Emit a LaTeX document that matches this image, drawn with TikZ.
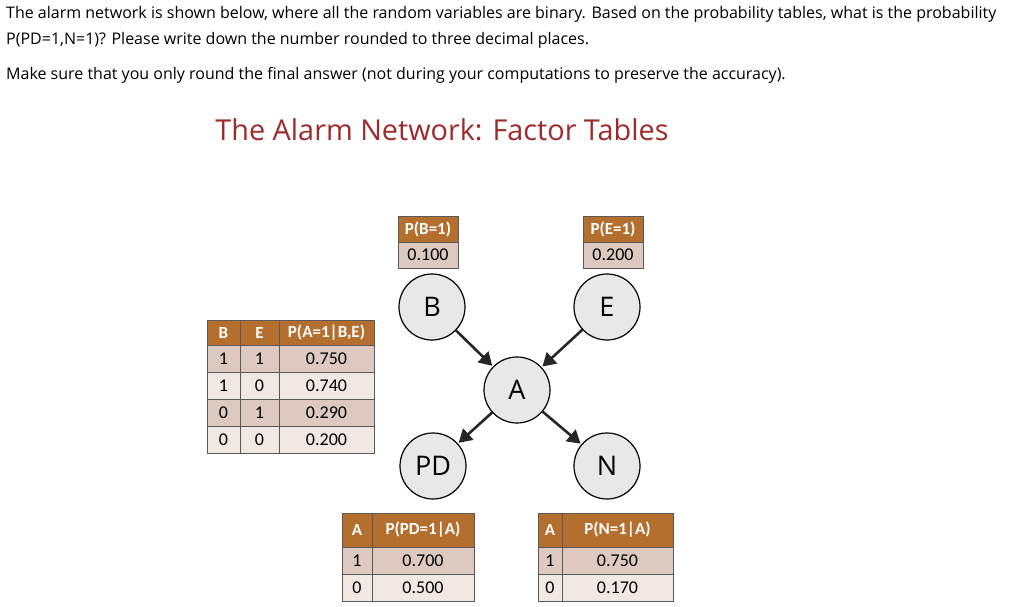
\documentclass[tikz,border=0pt]{standalone}
\usepackage{fontspec}
\setmainfont{Open Sans}
\newfontfamily\calfnt{Carlito}
\usetikzlibrary{arrows.meta}
\definecolor{hd}{HTML}{B46E2E}
\definecolor{rd}{HTML}{DDC9BF}
\definecolor{rl}{HTML}{F1E7E3}
\definecolor{nodef}{HTML}{E8E8E8}
\definecolor{ttl}{HTML}{9E2A2B}
\tikzset{
  cellbox/.style={draw=black!65, line width=0.6pt, inner sep=0pt, font=\calfnt\fontsize{18}{20}\selectfont},
  hdcell/.style={cellbox, fill=hd, text=white, font=\calfnt\bfseries\fontsize{17}{20}\selectfont},
  rv/.style={circle, draw=black, line width=1.2pt, fill=nodef, minimum size=66pt, inner sep=0pt, font=\fontsize{27}{30}\selectfont},
  edge/.style={line width=2.6pt, draw=black!85, -{Triangle[length=13pt,width=15pt]}, shorten >=1pt}
}
% \cellat{name}{x1}{y1}{x2}{y2}{style}{text}
\newcommand\cellat[7]{\node[#6, minimum width={(#4-#2)*1pt}, minimum height={(#5-#3)*1pt}] (#1) at ({(#2+#4)/2}, {(#3+#5)/2}) {#7};}
\begin{document}
\begin{tikzpicture}[x=1pt,y=-1pt]
\useasboundingbox (0,0) rectangle (1009,607);
\begin{scope}[every node/.style={anchor=base west, inner sep=0pt, font=\fontsize{16}{18}\selectfont}]
\node (t1) at (6,19) {The alarm network is shown below, where all the random variables are binary. Based on the probability tables, what is the probability};
\node (t2) at (6,45) {P(PD=1,N=1)? Please write down the number rounded to three decimal places.};
\node (t3) at (6,80) {Make sure that you only round the final answer (not during your computations to preserve the accuracy).};
\end{scope}
\node[anchor=base, text=ttl, font=\fontsize{28.8}{32}\selectfont, inner sep=0pt] (title) at (442,141) {The Alarm Network: Factor Tables};
% prior tables
\cellat{pbh}{398}{216}{458}{242}{hdcell}{P(B=1)}
\cellat{pbv}{398}{242}{458}{268}{cellbox,fill=rd}{0.100}
\cellat{peh}{583}{216}{643}{242}{hdcell}{P(E=1)}
\cellat{pev}{583}{242}{643}{268}{cellbox,fill=rd}{0.200}
% nodes
\node[rv] (B) at (432,307) {B};
\node[rv] (E) at (607,307) {E};
\node[rv] (A) at (517,390) {A};
\node[rv] (PD) at (433,466) {PD};
\node[rv] (N) at (607,466) {N};
\draw[edge] (B) -- (A);
\draw[edge] (E) -- (A);
\draw[edge] (A) -- (PD);
\draw[edge] (A) -- (N);
% A table
\cellat{ah1}{207}{320}{240}{345}{hdcell}{B}
\cellat{ah2}{240}{320}{279}{345}{hdcell}{E}
\cellat{ah3}{279}{320}{374}{345}{hdcell}{P(A=1|B,E)}
\cellat{a11}{207}{345}{240}{372}{cellbox,fill=rd}{1}
\cellat{a12}{240}{345}{279}{372}{cellbox,fill=rd}{1}
\cellat{a13}{279}{345}{374}{372}{cellbox,fill=rd}{0.750}
\cellat{a21}{207}{372}{240}{399}{cellbox,fill=rl}{1}
\cellat{a22}{240}{372}{279}{399}{cellbox,fill=rl}{0}
\cellat{a23}{279}{372}{374}{399}{cellbox,fill=rl}{0.740}
\cellat{a31}{207}{399}{240}{426}{cellbox,fill=rd}{0}
\cellat{a32}{240}{399}{279}{426}{cellbox,fill=rd}{1}
\cellat{a33}{279}{399}{374}{426}{cellbox,fill=rd}{0.290}
\cellat{a41}{207}{426}{240}{453}{cellbox,fill=rl}{0}
\cellat{a42}{240}{426}{279}{453}{cellbox,fill=rl}{0}
\cellat{a43}{279}{426}{374}{453}{cellbox,fill=rl}{0.200}
% PD table
\cellat{ph1}{342}{513}{372}{547}{hdcell}{A}
\cellat{ph2}{372}{513}{474}{547}{hdcell}{P(PD=1|A)}
\cellat{p11}{342}{547}{372}{574}{cellbox,fill=rd}{1}
\cellat{p12}{372}{547}{474}{574}{cellbox,fill=rd}{0.700}
\cellat{p21}{342}{574}{372}{601}{cellbox,fill=rl}{0}
\cellat{p22}{372}{574}{474}{601}{cellbox,fill=rl}{0.500}
% N table
\cellat{nh1}{538}{513}{562}{547}{hdcell}{A}
\cellat{nh2}{562}{513}{673}{547}{hdcell}{P(N=1|A)}
\cellat{n11}{538}{547}{562}{574}{cellbox,fill=rd}{1}
\cellat{n12}{562}{547}{673}{574}{cellbox,fill=rd}{0.750}
\cellat{n21}{538}{574}{562}{601}{cellbox,fill=rl}{0}
\cellat{n22}{562}{574}{673}{601}{cellbox,fill=rl}{0.170}
\end{tikzpicture}
\end{document}
